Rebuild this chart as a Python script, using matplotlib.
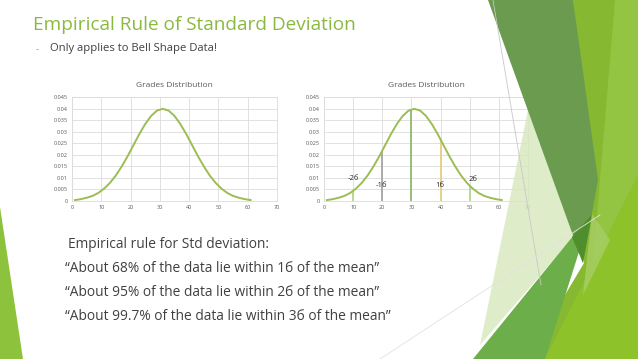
import numpy as np
import matplotlib.pyplot as plt
from matplotlib.patches import Polygon

# grades distribution curve
grade = [1, 3, 5, 7, 9, 11, 13, 15, 17, 19, 21, 23, 25, 27, 29, 31,
         33, 35, 37, 39, 41, 43, 45, 47, 49, 51, 53, 55, 57, 59, 61]
density = [0.0004, 0.0008, 0.0014, 0.0022, 0.0035, 0.0054, 0.0079, 0.0111,
           0.0150, 0.0194, 0.0242, 0.0290, 0.0333, 0.0368, 0.0391, 0.0399,
           0.0391, 0.0368, 0.0333, 0.0290, 0.0242, 0.0194, 0.0150, 0.0111,
           0.0079, 0.0054, 0.0035, 0.0022, 0.0014, 0.0008, 0.0004]

# sigma markers on the second chart
sd_x = [10, 20, 30, 40, 50]
sd_top = [0.0044, 0.0218, 0.0399, 0.0266, 0.0066]
sd_colors = ['#b5d68f', '#a6a6a6', '#93b872', '#e6cf7e', '#b5d68f']
sd_labels = ['-2б', '-1б', '1б', '2б']
sd_lab_x = [10, 19.6, 39.8, 51]
sd_lab_y = [0.0098, 0.0068, 0.0069, 0.0092]

xticks = [0, 10, 20, 30, 40, 50, 60, 70]
yticks = [0, 0.005, 0.01, 0.015, 0.02, 0.025, 0.03, 0.035, 0.04, 0.045]
ytick_labels = ['0', '0.005', '0.01', '0.015', '0.02', '0.025', '0.03', '0.035', '0.04', '0.045']

W, H = 638, 359
plt.rcParams['font.family'] = ['Open Sans', 'DejaVu Sans']
fig = plt.figure(figsize=(W / 100, H / 100), dpi=100)
fig.patch.set_facecolor('white')

def px_axes(x0, x1, y0, y1):
    # pixel box (y down) -> figure fraction
    return fig.add_axes([x0 / W, 1 - y1 / H, (x1 - x0) / W, (y1 - y0) / H])

def chart(ax, markers):
    ax.plot(grade, density, color='#9cbd52', lw=1.4, zorder=3)
    ax.set_xlim(0, 70)
    ax.set_ylim(0, 0.045)
    ax.set_xticks(xticks)
    ax.set_yticks(yticks)
    ax.set_yticklabels(ytick_labels)
    ax.tick_params(labelsize=4, colors='#595959', length=0, pad=3)
    ax.grid(True, color='#dcdcdc', lw=0.6)
    ax.set_axisbelow(True)
    for s in ax.spines.values():
        s.set_color('#dcdcdc')
        s.set_linewidth(0.6)
    ax.set_title('Grades Distribution', fontsize=6, color='#595959', pad=7)
    if markers:
        for x, top, c in zip(sd_x, sd_top, sd_colors):
            ax.vlines(x, 0, top, color=c, lw=1.3, zorder=2)
        for t, x, y in zip(sd_labels, sd_lab_x, sd_lab_y):
            ax.text(x, y, t, fontsize=5.5, color='#262626', ha='center', va='center', zorder=4)

chart(px_axes(72, 277, 97, 201), False)
chart(px_axes(324, 528, 97, 201), True)

# slide text
fig.text(33 / W, 1 - 25 / H, 'Empirical Rule of Standard Deviation', fontsize=13.7,
         color='#8ab93f', va='center', ha='left')
fig.text(36 / W, 1 - 50 / H, '-', fontsize=7, color='#9bb36d', va='center')
fig.text(50 / W, 1 - 49 / H, 'Only applies to Bell Shape Data!', fontsize=8.1,
         color='#404040', va='center')
body = ['Empirical rule for Std deviation:',
        '“About 68% of the data lie within 1б of the mean”',
        '“About 95% of the data lie within 2б of the mean”',
        '“About 99.7% of the data lie within 3б of the mean”']
body_x = [68, 65, 65, 65]
body_y = [245, 269, 293, 317]
for t, x, y in zip(body, body_x, body_y):
    fig.text(x / W, 1 - y / H, t, fontsize=9.9, color='#404040', va='center')

# decorative facets
deco = fig.add_axes([0, 0, 1, 1], zorder=10)
deco.set_xlim(0, W)
deco.set_ylim(H, 0)
deco.axis('off')
deco.patch.set_alpha(0)
shapes = [
    ([(0, 207), (23, 359), (0, 359)], '#8dc23c', 1),
    ([(573, 0), (638, 0), (638, 359), (527, 359), (584, 263)], '#86b831', 1),
    ([(615, 0), (638, 0), (638, 359), (585, 359)], '#93c542', 1),
    ([(545, 359), (638, 175), (638, 359)], '#8ec22a', 1),
    ([(530, 100), (575, 235), (480, 345)], '#d6e8bc', 0.8),
    ([(488, 0), (573, 0), (598, 180), (583, 263)], '#6a9b4e', 1),
    ([(473, 359), (591, 214), (545, 359)], '#6cae49', 1),
    ([(572, 237), (592, 214), (583, 263)], '#4f8e2c', 1),
    ([(592, 214), (610, 240), (583, 295)], '#a8cf66', 0.8),
]
for pts, c, a in shapes:
    deco.add_patch(Polygon(pts, closed=True, facecolor=c, edgecolor='none', alpha=a))
deco.plot([493, 541], [0, 285], color='#c8c8c8', lw=0.6)
deco.plot([380, 600], [359, 215], color='#e2e2e2', lw=0.6)

fig.savefig('out.png', dpi=100)
